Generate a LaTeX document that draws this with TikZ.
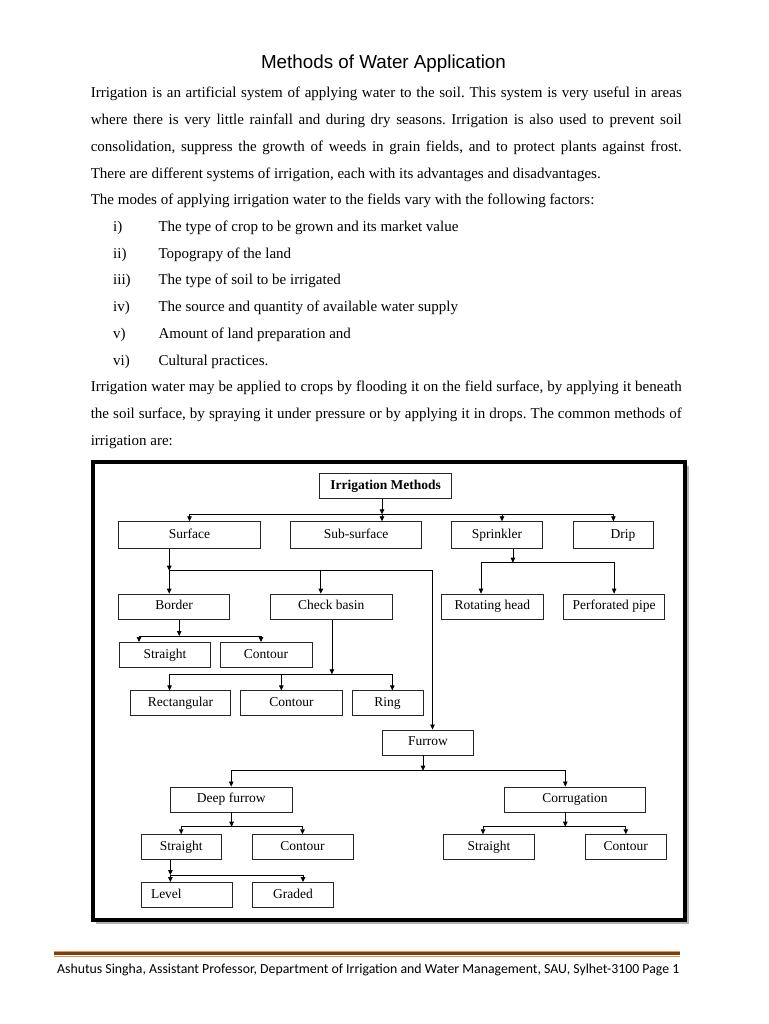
\documentclass[tikz,border=0pt]{standalone}
\usepackage{fontspec}
\setmainfont{Liberation Serif}
\newfontfamily\titlefont{Liberation Sans}
\newfontfamily\footfont{Carlito}
\usepackage{xcolor}
\usetikzlibrary{arrows.meta,positioning,calc}
\definecolor{footbrown}{RGB}{131,60,12}
\definecolor{footorange}{RGB}{222,150,90}
\frenchspacing

\tikzset{
  box/.style={draw = black!85, line width = .9pt, minimum height = 25pt, inner sep = 0pt, text height = 9.3pt, text depth = 2.9pt, font = \fontsize{13.5}{15}\selectfont},
  arr/.style={line width = .8pt, -{Triangle[length = 5pt, width = 4.5pt]}},
  body/.style={anchor = base west, inner sep = 0pt, font = \fontsize{15}{17}\selectfont},
  item/.style={anchor = base west, inner sep = 0pt, font = \fontsize{15}{17}\selectfont}
}

\begin{document}
\begin{tikzpicture}[x = 1pt, y = -1pt]
    \useasboundingbox (0,0) rectangle (768,1024);
    \fill[white] (0,0) rectangle (768,1024);
    \node[anchor = base, inner sep = 0pt, font = \titlefont\fontsize{18.8}{20}\selectfont] (title) at (383.5,68.3) {Methods of Water Application};
    \node[body] (par1) at (90.6,98) {\makebox[591pt][s]{Irrigation is an artificial system of applying water to the soil. This system is very useful in areas}};
    \node[body] (par2) at (90.6,124.7) {\makebox[591pt][s]{where there is very little rainfall and during dry seasons. Irrigation is also used to prevent soil}};
    \node[body] (par3) at (90.6,151.4) {\makebox[591pt][s]{consolidation, suppress the growth of weeds in grain fields, and to protect plants against frost.}};
    \node[body] (par4) at (90.6,178.1) {There are different systems of irrigation, each with its advantages and disadvantages.};
    \node[body] (par5) at (90.6,204.8) {The modes of applying irrigation water to the fields vary with the following factors:};
    \node[item] (n1) at (113,231.5) {i)};
    \node[item] (t1) at (158.3,231.5) {The type of crop to be grown and its market value};
    \node[item] (n2) at (113,258.2) {ii)};
    \node[item] (t2) at (158.3,258.2) {Topograpy of the land};
    \node[item] (n3) at (113,284.9) {iii)};
    \node[item] (t3) at (158.3,284.9) {The type of soil to be irrigated};
    \node[item] (n4) at (113,311.6) {iv)};
    \node[item] (t4) at (158.3,311.6) {The source and quantity of available water supply};
    \node[item] (n5) at (113,338.3) {v)};
    \node[item] (t5) at (158.3,338.3) {Amount of land preparation and};
    \node[item] (n6) at (113,365) {vi)};
    \node[item] (t6) at (158.3,365) {Cultural practices.};
    \node[body] (par6) at (90.6,391.7) {\makebox[591pt][s]{Irrigation water may be applied to crops by flooding it on the field surface, by applying it beneath}};
    \node[body] (par7) at (90.6,418.4) {\makebox[591pt][s]{the soil surface, by spraying it under pressure or by applying it in drops. The common methods of}};
    \node[body] (par8) at (90.6,445.1) {irrigation are:};

    \draw[black!30, line width = 2.5pt] (687.5,466) -- (687.5,923) -- (96,923);
    \draw[line width = 4pt] (92.5,462) rectangle (684.5,920);

    \node[box, minimum width = 132pt, font = \bfseries\fontsize{13.5}{15}\selectfont] (im) at (385.6,486.2) {Irrigation Methods};
    \node[box, minimum width = 141.6pt, minimum height = 26.5pt] (surf) at (189.5,535) {Surface};
    \node[box, minimum width = 131.8pt, minimum height = 26.5pt] (sub) at (356,535) {Sub-surface};
    \node[box, minimum width = 90.7pt, minimum height = 26.5pt] (spr) at (497,535) {Sprinkler};
    \node[box, minimum width = 80.7pt, minimum height = 26.5pt] (drip) at (613.4,535) {\makebox[80.7pt]{\hspace{19pt}Drip}};
    \node[box, minimum width = 111pt] (border) at (174.2,606.6) {Border};
    \node[box, minimum width = 122.3pt] (check) at (331.2,606.6) {Check basin};
    \node[box, minimum width = 102.2pt] (rot) at (492.4,606.6) {Rotating head};
    \node[box, minimum width = 101.4pt] (perf) at (614.1,606.6) {Perforated pipe};
    \node[box, minimum width = 91pt] (str1) at (165,655) {Straight};
    \node[box, minimum width = 92pt] (con1) at (266,655) {Contour};
    \node[box, minimum width = 100.6pt] (rect) at (180.5,703.3) {Rectangular};
    \node[box, minimum width = 102.2pt] (con2) at (291.5,703.3) {Contour};
    \node[box, minimum width = 71pt] (ring) at (387.5,703.3) {Ring};
    \node[box, minimum width = 90.6pt] (furrow) at (428.1,742.5) {Furrow};
    \node[box, minimum width = 121.6pt] (deep) at (231.2,799.5) {Deep furrow};
    \node[box, minimum width = 141.7pt] (corr) at (574.9,799.5) {Corrugation};
    \node[box, minimum width = 80.3pt] (str2) at (181.2,847.2) {Straight};
    \node[box, minimum width = 101pt] (con3) at (302.5,847.2) {Contour};
    \node[box, minimum width = 91.5pt] (str3) at (489,847.2) {Straight};
    \node[box, minimum width = 80.4pt] (con4) at (625.8,847.2) {Contour};
    \node[box, minimum width = 91.4pt] (level) at (186.7,895) {\makebox[91.4pt][l]{\hspace{10pt}Level}};
    \node[box, minimum width = 80.7pt] (graded) at (293,895) {Graded};

    \coordinate (j1) at (382,514.3);
    \draw[arr] (im.south -| j1) -- (j1);
    \draw[arr] (j1) -- (j1 |- sub.north);
    \draw[arr] (j1) -| (surf.north);
    \draw[arr] (j1) -| ([xshift = 5pt]spr.north);
    \draw[arr] (j1) -| (drip.north);

    \coordinate (j2) at (169.2,570.7);
    \draw[arr] (surf.south -| j2) -- (j2);
    \draw[arr] (j2) -- (j2 |- border.north);
    \draw[arr] (j2) -| ([xshift = -10.4pt]check.north);
    \draw[arr] (j2) -| ([xshift = 4.4pt]furrow.north);

    \coordinate (j3) at (512.9,562.7);
    \draw[arr] (spr.south -| j3) -- (j3);
    \draw[arr] (j3) -| ([xshift = -11.4pt]rot.north);
    \draw[arr] (j3) -| (perf.north);

    \coordinate (j4) at (179.2,636);
    \draw[arr] (border.south -| j4) -- (j4);
    \draw[arr] (j4) -| ([xshift = -26pt]str1.north);
    \draw[arr] (j4) -| ([xshift = -5pt]con1.north);

    \coordinate (j5) at (331.9,674.3);
    \draw[arr] (check.south -| j5) -- (j5);
    \draw[arr] (j5) -| ([xshift = -10.9pt]rect.north);
    \draw[arr] (j5) -| ([xshift = -10.2pt]con2.north);
    \draw[arr] (j5) -| ([xshift = 4.8pt]ring.north);

    \coordinate (j6) at (423,770.7);
    \draw[arr] (furrow.south -| j6) -- (j6);
    \draw[arr] (j6) -| (deep.north);
    \draw[arr] (j6) -| ([xshift = -9.6pt]corr.north);

    \coordinate (j7) at (231.6,826.7);
    \draw[arr] (deep.south -| j7) -- (j7);
    \draw[arr] (j7) -| (str2.north);
    \draw[arr] (j7) -| (con3.north);

    \coordinate (j8) at (565.3,826.7);
    \draw[arr] (corr.south -| j8) -- (j8);
    \draw[arr] (j8) -| ([xshift = -6pt]str3.north);
    \draw[arr] (j8) -| (con4.north);

    \coordinate (j9) at (170.4,875);
    \draw[arr] (str2.south -| j9) -- (j9);
    \draw[arr] (j9) -- (j9 |- level.north);
    \draw[arr] (j9) -| ([xshift = 10pt]graded.north);

    \draw[footorange, line width = .8pt] (54,951.3) -- (680,951.3);
    \draw[footbrown, line width = 3pt] (54,953.6) -- (680,953.6);
    \draw[footorange, line width = 1.2pt] (54,956.4) -- (680,956.4);
    \node[anchor = base west, inner sep = 0pt, font = \footfont\fontsize{13.8}{15}\selectfont] (foot) at (57,973.5) {Ashutus Singha, Assistant Professor, Department of Irrigation and Water Management, SAU, Sylhet-3100 Page 1};
\end{tikzpicture}
\end{document}
